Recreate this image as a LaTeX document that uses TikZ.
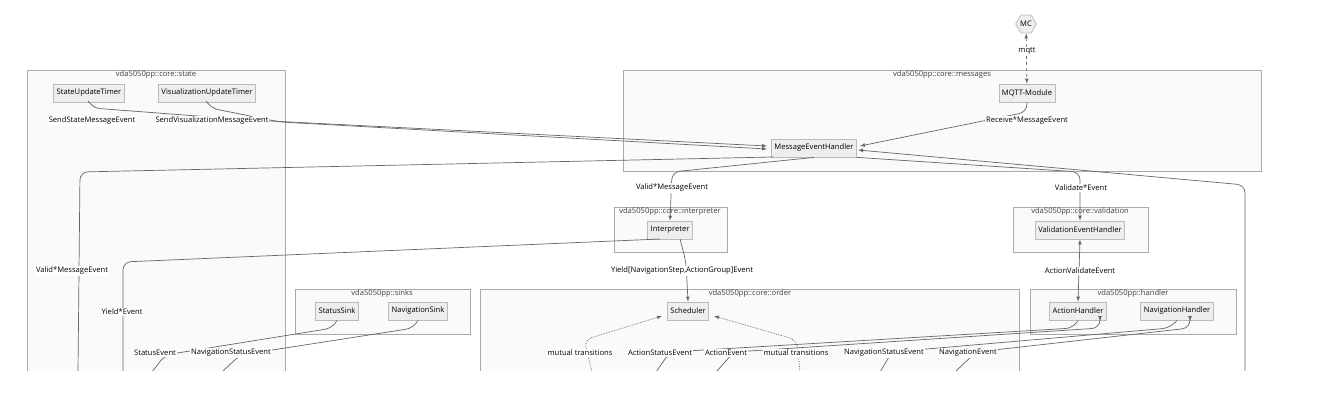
\documentclass[tikz,border=0pt]{standalone}
\usepackage{fontspec}
\setmainfont{Open Sans}
\usetikzlibrary{shapes,arrows,positioning}
\definecolor{boxfill}{HTML}{EEEEEE}
\definecolor{boxline}{HTML}{BBBBBB}
\definecolor{grpfill}{HTML}{FAFAFA}
\definecolor{grpline}{HTML}{AAAAAA}
\definecolor{edge}{HTML}{666666}
\begin{document}
\begin{tikzpicture}[x=1pt,y=-1pt,>=latex,font=\fontsize{7.6}{8}\selectfont]
\tikzstyle{comp}=[draw=boxline, fill=boxfill, line width=0.8pt, minimum height=18pt, inner xsep=3pt]
\tikzstyle{grp}=[draw=grpline, fill=grpfill, line width=0.6pt]
\tikzstyle{gtitle}=[below, inner sep=1pt, text=black!75]
\tikzstyle{ann}=[fill=white, inner sep=1pt]
\tikzstyle{flow}=[draw=edge, line width=0.7pt, rounded corners=8pt]
\tikzstyle{dots}=[flow, densely dotted]

\useasboundingbox (0,0) rectangle (1319,401);

% groups
\begin{scope}
\clip (0,0) rectangle (1319,370);
\draw[grp] (27,70) rectangle (285,380);
\draw[grp] (480,289) rectangle (1019,380);
\end{scope}
\draw[grp] (623,70) rectangle (1261,171);
\draw[grp] (614,207) rectangle (727,252);
\draw[grp] (1013,207) rectangle (1148,252);
\draw[grp] (295,289) rectangle (470,334);
\draw[grp] (1030,289) rectangle (1236,334);
\node[gtitle] at (156,70) {vda5050pp::core::state};
\node[gtitle] at (942,70) {vda5050pp::core::messages};
\node[gtitle] at (670,207) {vda5050pp::core::interpreter};
\node[gtitle] at (1080,207) {vda5050pp::core::validation};
\node[gtitle] at (382,289) {vda5050pp::sinks};
\node[gtitle] at (750,289) {vda5050pp::core::order};
\node[gtitle] at (1133,289) {vda5050pp::handler};

% components
\node (mc) [draw=boxline, fill=boxfill, regular polygon, regular polygon sides=6, inner sep=0.5pt, line width=0.8pt] at (1026,24) {MC};
\node (mqtt) [comp] at (1027,93) {MQTT-Module};
\node (meh) [comp] at (814,148) {MessageEventHandler};
\node (sut) [comp] at (89,93) {StateUpdateTimer};
\node (vut) [comp] at (207,93) {VisualizationUpdateTimer};
\node (interp) [comp] at (670,230) {Interpreter};
\node (veh) [comp] at (1080,230) {ValidationEventHandler};
\node (ssink) [comp] at (337,311) {StatusSink};
\node (nsink) [comp] at (418,311) {NavigationSink};
\node (sched) [comp] at (688,311) {Scheduler};
\node (ah) [comp] at (1078,311) {ActionHandler};
\node (nh) [comp] at (1177,311) {NavigationHandler};

% loose ends below the cut
\coordinate (endA) at (78,372);
\coordinate (endB) at (123,372);
\coordinate (endC) at (152,372);
\coordinate (endD) at (222,372);
\coordinate (endE) at (592,372);
\coordinate (endF) at (656,372);
\coordinate (endG) at (716,372);
\coordinate (endH) at (800,372);
\coordinate (endI) at (880,372);
\coordinate (endJ) at (955,372);
\coordinate (endK) at (1245,372);

% connectors
\begin{scope}
\clip (0,0) rectangle (1319,370);
\draw[flow, dashed, <->] (mc) -- (mqtt);
\draw[flow, ->] (mqtt.south) -- (1027,112) -- (860,146);
\draw[flow, ->] (sut.south) -- (92,108) -- (250,120) -- (767,146);
\draw[flow, ->] (vut.south) -- (210,108) -- (280,122) -- (767,149);
\draw[flow, ->] (meh.south) -- (672,172) -- (interp.north);
\draw[flow] (773,157) -- (80,172) -- (endA);
\draw[flow] (660,239) -- (123,262) -- (endB);
\draw[flow, ->] (680,239) -- (686,262) -- (sched.north);
\draw[flow, ->] (meh.south east) -- (1080,172) -- (veh.north);
\draw[flow, ->] (endK) -- (1245,185) -- (858,150);
\draw[flow, <->] (veh.south) -- (ah.north);
\draw[flow] (ssink.south) -- (333,328) -- (165,355) -- (endC);
\draw[flow] (nsink.south) -- (414,328) -- (240,355) -- (endD);
\draw[dots, ->] (endE) -- (584,340) -- (662,316);
\draw[dots, ->] (endH) -- (797,340) -- (714,316);
\draw[flow] (ah.south) -- (1074,328) -- (670,352) -- (endF);
\draw[flow, ->] (endG) -- (734,352) -- (1100,328) -- (1100,321);
\draw[flow] (nh.south) -- (1170,328) -- (892,352) -- (endI);
\draw[flow, ->] (endJ) -- (976,352) -- (1190,328) -- (1190,321);
\end{scope}

% labels
\node (lmqtt) [ann] at (1027,51) {mqtt};
\node (lrec) [ann] at (1027,121) {Receive*MessageEvent};
\node (lss) [ann] at (92,121) {SendStateMessageEvent};
\node (lsv) [ann] at (212,121) {SendVisualizationMessageEvent};
\node (lvm) [ann] at (672,188) {Valid*MessageEvent};
\node (lval) [ann] at (1081,188) {Validate*Event};
\node (lvm2) [ann] at (72,271) {Valid*MessageEvent};
\node (lyield) [ann] at (682,271) {Yield[NavigationStep,ActionGroup]Event};
\node (lav) [ann] at (1080,271) {ActionValidateEvent};
\node (ly) [ann] at (122,312) {Yield*Event};
\node (lse) [ann] at (155,353) {StatusEvent};
\node (lnse) [ann] at (231,353) {NavigationStatusEvent};
\node (lmt1) [ann] at (580,353) {mutual transitions};
\node (lase) [ann] at (660,353) {ActionStatusEvent};
\node (lae) [ann] at (726,353) {ActionEvent};
\node (lmt2) [ann] at (796,353) {mutual transitions};
\node (lnse2) [ann] at (884,353) {NavigationStatusEvent};
\node (lne) [ann] at (968,353) {NavigationEvent};
\end{tikzpicture}
\end{document}
